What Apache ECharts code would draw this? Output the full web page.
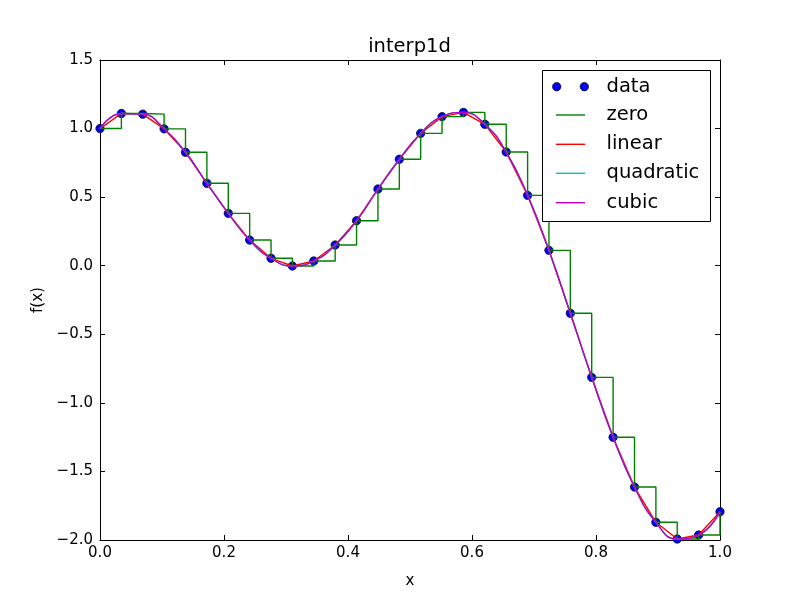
<!DOCTYPE html>
<html>
<head>
<meta charset="utf-8">
<script src="https://cdn.jsdelivr.net/npm/echarts@6/dist/echarts.min.js"></script>
<style>
html,body{margin:0;padding:0;background:#fff;}
#chart{width:800px;height:600px;}
</style>
</head>
<body>
<div id="chart"></div>
<script>
// Sample positions (30 evenly spaced samples on [0, 1])
var xData = [0.0000, 0.0345, 0.0690, 0.1034, 0.1379, 0.1724, 0.2069, 0.2414, 0.2759, 0.3103,
             0.3448, 0.3793, 0.4138, 0.4483, 0.4828, 0.5172, 0.5517, 0.5862, 0.6207, 0.6552,
             0.6897, 0.7241, 0.7586, 0.7931, 0.8276, 0.8621, 0.8966, 0.9310, 0.9655, 1.0000];
var yData = [1.000, 1.110, 1.105, 0.998, 0.827, 0.601, 0.382, 0.187, 0.054, -0.002,
             0.034, 0.151, 0.328, 0.559, 0.776, 0.965, 1.087, 1.118, 1.031, 0.829,
             0.513, 0.112, -0.347, -0.814, -1.251, -1.614, -1.871, -1.993, -1.964, -1.794];
var xTicks = [0.0, 0.2, 0.4, 0.6, 0.8, 1.0];
var yTicks = [-2.0, -1.5, -1.0, -0.5, 0.0, 0.5, 1.0, 1.5];
var seriesNames = ['data', 'zero', 'linear', 'quadratic', 'cubic'];
var seriesColors = ['#0000ff', '#008000', '#ff0000', '#00bfbf', '#bf00bf'];
var titleText = 'interp1d';

var pts = xData.map(function (x, i) { return [x, yData[i]]; });
var FONT = 'DejaVu Sans';
function fmt(v) { return v.toFixed(1).replace('-', '\u2212'); }

var chart = echarts.init(document.getElementById('chart'), null, {renderer: 'canvas'});

var axisCommon = {
  type: 'value',
  axisLine: {show: true, onZero: false, lineStyle: {color: '#000', width: 1}},
  axisTick: {show: true, inside: true, length: 5, lineStyle: {color: '#000', width: 1}},
  splitLine: {show: false}
};

function lineSeries(idx, extra) {
  var s = {
    name: seriesNames[idx], type: 'line', data: pts, showSymbol: false, symbol: 'none',
    lineStyle: {color: seriesColors[idx], width: 1.4}, itemStyle: {color: seriesColors[idx]},
    silent: true, z: 2 + idx
  };
  for (var k in extra) s[k] = extra[k];
  return s;
}

var lx = 542, ly = 70, lw = 168, lh = 151;
var rows = [86.7, 115, 144.3, 173.3, 202.7];
var graphicEls = [{
  type: 'text', x: 409.5, y: 46.5,
  style: {text: titleText, fill: '#000', font: '19.5px "' + FONT + '"', textAlign: 'center', textVerticalAlign: 'middle'}
}, {
  type: 'rect', shape: {x: lx + 0.5, y: ly + 0.5, width: lw, height: lh},
  style: {fill: '#fff', stroke: '#000', lineWidth: 1}, z: 100
}];
seriesNames.forEach(function (n, i) {
  if (i === 0) {
    [556.7, 584.3].forEach(function (cx) {
      graphicEls.push({type: 'circle', shape: {cx: cx, cy: rows[0], r: 4.2},
        style: {fill: seriesColors[0], stroke: '#000', lineWidth: 0.7}, z: 101});
    });
  } else {
    graphicEls.push({type: 'line', shape: {x1: 556, y1: rows[i], x2: 585, y2: rows[i]},
      style: {stroke: seriesColors[i], lineWidth: 1.4}, z: 101});
  }
  graphicEls.push({type: 'text', x: 606.5, y: rows[i],
    style: {text: n, fill: '#000', font: '19.5px "' + FONT + '"', textAlign: 'left', textVerticalAlign: 'middle'}, z: 101});
});

var option = {
  animation: false,
  backgroundColor: '#fff',
  textStyle: {fontFamily: FONT},
  grid: {left: 100, right: 80, top: 60, bottom: 60, containLabel: false},
  xAxis: [
    Object.assign({}, axisCommon, {
      position: 'bottom', min: xTicks[0], max: xTicks[xTicks.length - 1], interval: 0.2,
      name: 'x', nameLocation: 'middle', nameGap: 34,
      nameTextStyle: {fontFamily: FONT, fontSize: 15, color: '#000'},
      axisLabel: {show: true, margin: 6, color: '#000', fontFamily: FONT, fontSize: 15, formatter: fmt}
    }),
    Object.assign({}, axisCommon, {
      position: 'top', min: xTicks[0], max: xTicks[xTicks.length - 1], interval: 0.2,
      axisLabel: {show: false}
    })
  ],
  yAxis: [
    Object.assign({}, axisCommon, {
      position: 'left', min: yTicks[0], max: yTicks[yTicks.length - 1], interval: 0.5,
      name: 'f(x)', nameLocation: 'middle', nameGap: 54, nameRotate: 90,
      nameTextStyle: {fontFamily: FONT, fontSize: 15, color: '#000'},
      axisLabel: {show: true, margin: 7, color: '#000', fontFamily: FONT, fontSize: 15, formatter: fmt}
    }),
    Object.assign({}, axisCommon, {
      position: 'right', min: yTicks[0], max: yTicks[yTicks.length - 1], interval: 0.5,
      axisLabel: {show: false}
    })
  ],
  series: [
    {
      name: seriesNames[0], type: 'scatter', data: pts, symbol: 'circle', symbolSize: 8.4,
      itemStyle: {color: seriesColors[0], borderColor: '#000', borderWidth: 0.7, opacity: 1},
      silent: true, z: 1
    },
    lineSeries(1, {step: 'end'}),
    lineSeries(2, {}),
    lineSeries(3, {smooth: 0.5}),
    lineSeries(4, {smooth: 0.5})
  ],
  graphic: graphicEls
};
chart.setOption(option);
</script>
</body>
</html>
